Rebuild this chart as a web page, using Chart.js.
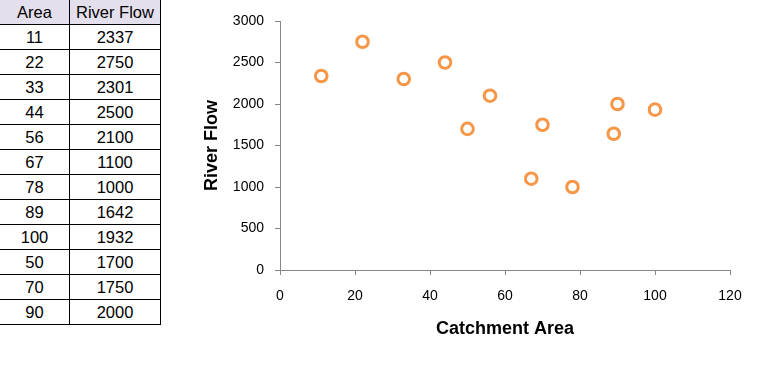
<!DOCTYPE html>
<html>
<head>
<meta charset="utf-8">
<script src="https://cdn.jsdelivr.net/npm/chart.js@4/dist/chart.umd.min.js"></script>
<style>
  html, body { margin: 0; padding: 0; background: #fff; width: 769px; height: 381px; overflow: hidden; }
  #tbl { position: absolute; left: 0; top: 0; border-collapse: collapse; font-family: "Liberation Sans", Arial, sans-serif; font-size: 16.5px; color: #000; }
  #tbl td, #tbl th { height: 24px; padding: 0; text-align: center; font-weight: normal; border-bottom: 1px solid #000; border-right: 1px solid #000; }
  #tbl th { background: #e4dfec; }
  #tbl .c1 { width: 69px; }
  #tbl .c2 { width: 90px; }
  #wrap { position: absolute; left: 190px; top: 0; width: 579px; height: 381px; }
</style>
</head>
<body>
<table id="tbl"><thead><tr><th class="c1">Area</th><th class="c2">River Flow</th></tr></thead><tbody id="tb"></tbody></table>
<div id="wrap"><canvas id="c" width="579" height="381"></canvas></div>
<script>
const areas = [11, 22, 33, 44, 56, 67, 78, 89, 100, 50, 70, 90];
const flows = [2337, 2750, 2301, 2500, 2100, 1100, 1000, 1642, 1932, 1700, 1750, 2000];
const xTitle = "Catchment Area";
const yTitle = "River Flow";

const tb = document.getElementById('tb');
areas.forEach((a, i) => {
  const tr = document.createElement('tr');
  tr.innerHTML = '<td class="c1">' + a + '</td><td class="c2">' + flows[i] + '</td>';
  tb.appendChild(tr);
});

const pts = areas.map((a, i) => ({ x: a, y: flows[i] }));
const axisColor = '#868686';
const FAM = '"Liberation Sans", Arial, sans-serif';
new Chart(document.getElementById('c'), {
  type: 'scatter',
  data: { datasets: [{ data: pts, pointRadius: 5.8, pointHoverRadius: 5.8, pointBorderWidth: 3, pointBorderColor: '#f79646', pointBackgroundColor: '#ffffff' }] },
  options: {
    responsive: false, animation: false,
    layout: { padding: { left: 0, top: 21, right: 39, bottom: 40 } },
    plugins: { legend: { display: false }, tooltip: { enabled: false } },
    scales: {
      x: {
        type: 'linear', min: 0, max: 120,
        ticks: { stepSize: 20, color: '#000', font: { family: FAM, size: 14 }, padding: 13, maxRotation: 0, callback: v => String(v) },
        grid: { drawOnChartArea: false, drawTicks: true, tickLength: 5, color: axisColor },
        border: { color: axisColor, width: 1 },
        title: { display: true, text: xTitle, color: '#000', font: { family: FAM, size: 18, weight: 'bold' }, padding: { top: 0, bottom: 1 } },
        afterFit: s => { s.height = 71; }
      },
      y: {
        type: 'linear', min: 0, max: 3000,
        ticks: { stepSize: 500, color: '#000', font: { family: FAM, size: 14 }, padding: 11, callback: v => String(v) },
        grid: { drawOnChartArea: false, drawTicks: true, tickLength: 5, color: axisColor },
        border: { color: axisColor, width: 1 },
        title: { display: true, text: yTitle, color: '#000', font: { family: FAM, size: 18, weight: 'bold' }, padding: { top: 11, bottom: 0 } },
        afterFit: s => { s.width = 90; }
      }
    }
  }
});
</script>
</body>
</html>
